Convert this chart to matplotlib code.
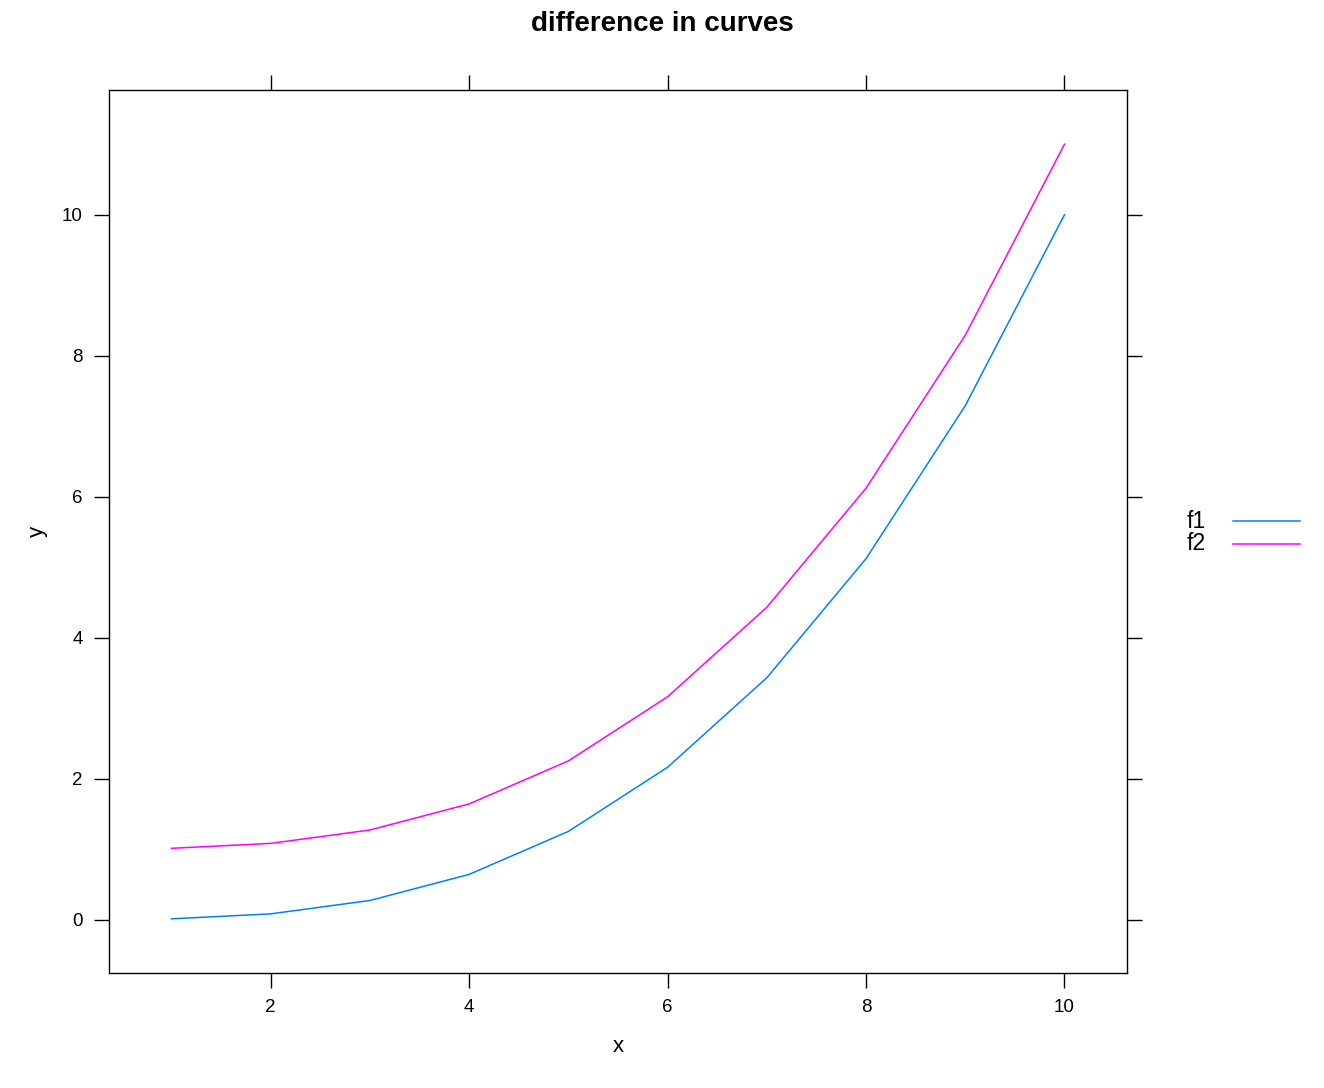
import matplotlib
matplotlib.use("Agg")
import matplotlib.pyplot as plt
from matplotlib.lines import Line2D

plt.rcParams['font.family'] = ['Liberation Sans', 'DejaVu Sans']

x = [1, 2, 3, 4, 5, 6, 7, 8, 9, 10]
f1 = [0.01, 0.08, 0.27, 0.64, 1.25, 2.16, 3.43, 5.12, 7.29, 10.0]
f2 = [1.01, 1.08, 1.27, 1.64, 2.25, 3.16, 4.43, 6.12, 8.29, 11.0]
series_names = ["f1", "f2"]
colors = ["#0080ff", "#ff00ff"]

fig = plt.figure(figsize=(13.24, 10.88), dpi=100)
ax = fig.add_axes([109/1324, 1 - 973/1088, (1127-109)/1324, (973-90)/1088])

ax.plot(x, f1, color=colors[0], lw=1.1)
ax.plot(x, f2, color=colors[1], lw=1.1)

ax.set_xlim(0.37, 10.63)
ax.set_ylim(-0.759, 11.769)
ax.set_xticks([2, 4, 6, 8, 10])
ax.set_yticks([0, 2, 4, 6, 8, 10])
ax.tick_params(direction='out', length=11, width=1, labelsize=13.5,
               top=True, right=True, labeltop=False, labelright=False, pad=8)
for s in ax.spines.values():
    s.set_linewidth(1)
ax.set_xlabel("x", fontsize=16, labelpad=14)
ax.set_ylabel("y", fontsize=16, labelpad=10)
fig.text(0.5, 1 - 24/1088, "difference in curves", ha='center', va='center',
         fontsize=20, fontweight='bold')

for i, (nm, c) in enumerate(zip(series_names, colors)):
    yy = 1 - (521 + 23*i)/1088
    fig.text(1187/1324, yy, nm, ha='left', va='center', fontsize=16.5)
    fig.add_artist(Line2D([1233/1324, 1300/1324], [yy, yy], color=c, lw=1.1,
                          transform=fig.transFigure))

fig.savefig("out.png", dpi=100)
